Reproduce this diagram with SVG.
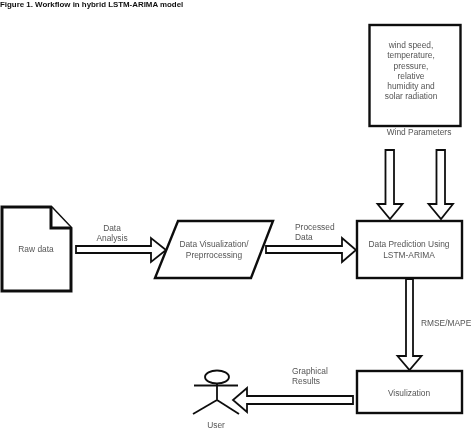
<svg xmlns="http://www.w3.org/2000/svg" width="474" height="430" viewBox="0 0 474 430">
<defs><filter id="soft" x="0" y="0" width="100%" height="100%"><feGaussianBlur stdDeviation="0.35"/></filter></defs>
<style>
text{font-family:"Liberation Sans",Arial,sans-serif;font-size:8.4px;fill:#555;text-anchor:middle}
.l{text-anchor:start}
.t{font-size:7.9px;font-weight:bold;fill:#111;text-anchor:start}
.s{fill:#fff;stroke:#111;stroke-width:2.4;stroke-linejoin:miter}
.d{fill:#fff;stroke:#111;stroke-width:3;stroke-linejoin:miter}
.a{fill:#fff;stroke:#111;stroke-width:1.8;stroke-linejoin:miter}
.p{fill:none;stroke:#111;stroke-width:1.8}
</style>
<rect width="474" height="430" fill="#fff"/>
<g filter="url(#soft)">
<text class="t" x="0" y="7">Figure 1. Workflow in hybrid LSTM-ARIMA model</text>
<g id="connectors">
<path class="a" d="M76 246H151V238L166 250L151 262V253H76Z"/>
<path class="a" d="M266 246H342V238L356 250L342 262V253H266Z"/>
<path class="a" d="M385.500 150H394V204H402.500L390 219L377.500 204H385.500Z"/>
<path class="a" d="M436.500 150H445V204H453L441 219L428.500 204H436.500Z"/>
<path class="a" d="M406 279H413V356H421.500L409.500 370L397.500 356H406Z"/>
<path class="a" d="M353 396H247V388L233 400L247 412V404H353Z"/>
</g>
<g id="raw-data">
<path class="d" d="M2 207H51L71 228V291H2Z"/>
<path class="d" d="M51 207V228H71" fill="none"/>
<text x="36" y="252">Raw data</text>
</g>
<g id="preprocessing">
<path class="s" d="M178 221H273L251 278H155Z"/>
<text x="214" y="247">Data Visualization/</text>
<text x="214" y="258">Preprrocessing</text>
</g>
<g id="wind-parameters">
<rect class="s" x="369.500" y="25" width="91" height="101"/>
<text x="411" y="48">wind speed,</text>
<text x="411" y="58">temperature,</text>
<text x="411" y="69">pressure,</text>
<text x="411" y="79">relative</text>
<text x="411" y="89">humidity and</text>
<text x="411" y="99">solar radiation</text>
<text x="419" y="135">Wind Parameters</text>
</g>
<g id="prediction">
<rect class="s" x="357" y="221" width="105" height="57"/>
<text x="409" y="247">Data Prediction Using</text>
<text x="409" y="258">LSTM-ARIMA</text>
</g>
<g id="visualization">
<rect class="s" x="357" y="371" width="105" height="42"/>
<text x="409" y="396">Visulization</text>
</g>
<g id="user">
<ellipse class="p" cx="217" cy="377" rx="12" ry="6.500"/>
<path class="p" d="M194 385.500H238M217 383.500V400M217 400L193 414M217 400L239 414"/>
<text x="216" y="428">User</text>
</g>
<g id="labels">
<text x="112" y="231">Data</text>
<text x="112" y="241">Analysis</text>
<text class="l" x="295" y="230">Processed</text>
<text class="l" x="295" y="240">Data</text>
<text class="l" x="421" y="326">RMSE/MAPE</text>
<text class="l" x="292" y="374">Graphical</text>
<text class="l" x="292" y="384">Results</text>
</g>
</g>
</svg>
